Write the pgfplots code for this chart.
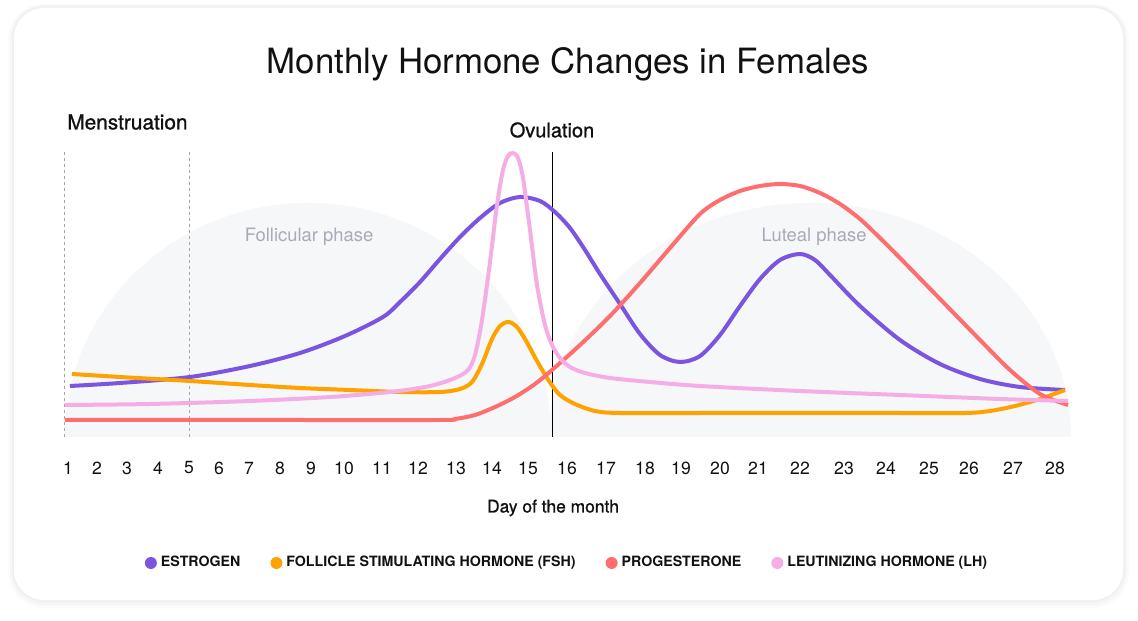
\documentclass[border=0pt]{standalone}
\usepackage{fontspec}
\setmainfont{TeX Gyre Heros}
\usepackage{pgfplots}
\pgfplotsset{compat=1.18}
\definecolor{estr}{HTML}{7B55E0}
\definecolor{fsh}{HTML}{FFA200}
\definecolor{prog}{HTML}{FF6E6E}
\definecolor{lh}{HTML}{F5AEE5}
\definecolor{arcbg}{HTML}{F6F7F9}
\definecolor{phase}{HTML}{A8AAB8}
\definecolor{ink}{HTML}{111111}

\pgfplotstableread{
x y
70 234
120 237
190 243
250 254
300 267
345 284
383 303
400 318
420 338
440 361
460 383
480 402
500 417
520 423
540 419
555 408
570 392
585 370
600 346
620 316
640 286
660 265
680 258
700 264
720 285
740 314
760 341
780 360
800 366
815 360
830 345
860 314
900 280
940 256
980 241
1020 233
1065 230
}\estrogen

\pgfplotstableread{
x y
72 246
120 243
190 239
250 235
300 232
350 230
400 228
440 228
460 231
472 238
482 256
492 281
500 294
508 298
516 294
525 281
537 259
549 239
560 225
575 216
595 209
620 207
700 207
800 207
900 207
965 207
990 209
1015 214
1040 221
1065 230
}\fsh

\pgfplotstableread{
x y
65 200
200 200
300 200
440 200
455 201
475 205
495 213
515 223
535 236
552 250
580 275
610 304
640 337
670 372
700 406
720 420
740 429
760 434
780 436
800 434
820 427
840 416
860 401
880 382
900 362
940 321
980 280
1010 250
1040 226
1068 215
}\prog

\pgfplotstableread{
x y
65 215
150 216
250 219
330 223
390 228
430 234
455 242
468 250
475 265
482 300
490 358
497 415
503 450
508 464
513 467
518 462
523 442
530 390
537 335
545 295
552 275
560 262
570 253
585 247
610 242
650 238
700 234
800 229
900 225
1000 221
1068 219
}\lh

\begin{document}
\begin{tikzpicture}
\begin{axis}[
  set layers=standard,
  scale only axis, width=569pt, height=148.5pt,
  xmin=0, xmax=1138, ymin=183, ymax=480,
  clip=false,
  axis line style={draw=none},
  major tick length=0pt,
  ytick=\empty,
  xtick={68,97,127,158,189,219,249,280,311,344,382,418,456,492,528,567,606,645,681,720,758,800,844,886,929,969,1013,1055},
  xticklabels={1,2,3,4,5,6,7,8,9,10,11,12,13,14,15,16,17,18,19,20,21,22,23,24,25,26,27,28},
  xticklabel style={font=\fontsize{8.8}{10}\selectfont, text=ink, anchor=center, yshift=-15.5pt},
  legend columns=4,
  legend style={at={(0.4991,-0.4242)}, anchor=center, draw=none, fill=none,
    font=\bfseries\fontsize{7.1}{9}\selectfont, text=ink,
    /tikz/every even column/.append style={column sep=13pt}},
  legend image code/.code={\fill[draw=none] (0pt,0pt) circle (3pt);},
]
\begin{pgfonlayer}{axis background}
% page box and card
\path (axis cs:0,0) rectangle (axis cs:1138,620);
\fill[black, opacity=0.015, rounded corners=18pt] (axis cs:8,12) rectangle (axis cs:1129,616);
\fill[black, opacity=0.02, rounded corners=17pt] (axis cs:10,15) rectangle (axis cs:1127,615);
\fill[black, opacity=0.025, rounded corners=16pt] (axis cs:12,18) rectangle (axis cs:1125,614);
\fill[white, rounded corners=15pt] (axis cs:14,20) rectangle (axis cs:1123,612);
% phase backgrounds
\begin{scope}
\clip (axis cs:0,183) rectangle (axis cs:1138,620);
\fill[arcbg] (axis cs:308,183) ellipse [x radius=121.5pt, y radius=117pt];
\fill[arcbg] (axis cs:810,183) ellipse [x radius=130.5pt, y radius=117pt];
\end{scope}
\node[text=phase, font=\fontsize{9.2}{11}\selectfont] at (axis cs:309,383) {Follicular phase};
\node[text=phase, font=\fontsize{9.2}{11}\selectfont] at (axis cs:814,383) {Luteal phase};
% markers
\draw[gray!70, line width=0.5pt, dash pattern=on 1.5pt off 1.5pt] (axis cs:64,468) -- (axis cs:64,183);
\draw[gray!70, line width=0.5pt, dash pattern=on 1.5pt off 1.5pt] (axis cs:189,468) -- (axis cs:189,183);
\draw[black, line width=0.5pt] (axis cs:552,468) -- (axis cs:552,183);
\end{pgfonlayer}

\addplot[estr, line width=2pt, smooth] table[x=x,y=y] {\estrogen};
\addlegendentry{ESTROGEN}
\addplot[fsh, line width=2pt, smooth] table[x=x,y=y] {\fsh};
\addlegendentry{FOLLICLE STIMULATING HORMONE (FSH)}
\addplot[prog, line width=2pt, smooth] table[x=x,y=y] {\prog};
\addlegendentry{PROGESTERONE}
\addplot[lh, line width=2pt, smooth] table[x=x,y=y] {\lh};
\addlegendentry{LEUTINIZING HORMONE (LH)}

% texts
\node[text=ink, font=\fontsize{17.4}{20}\selectfont] at (axis cs:568,556) {Monthly Hormone Changes in Females};
\node[text=ink, anchor=west, inner sep=0pt, font=\addfontfeature{FakeBold=1}\fontsize{10.4}{12}\selectfont] at (axis cs:67,498) {Menstruation};
\node[text=ink, font=\addfontfeature{FakeBold=1}\fontsize{10}{12}\selectfont] at (axis cs:552,490) {Ovulation};
\node[text=ink, font=\addfontfeature{FakeBold=1}\fontsize{8.7}{10}\selectfont] at (axis cs:553,112) {Day of the month};
\end{axis}
\end{tikzpicture}
\end{document}
